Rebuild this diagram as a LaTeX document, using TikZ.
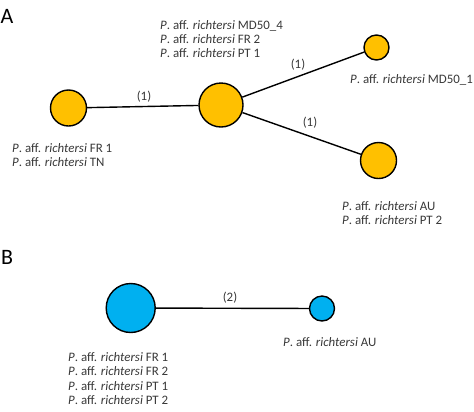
\documentclass[tikz,border=0pt]{standalone}
\usepackage{fontspec}
\setmainfont{Carlito}
\definecolor{hapA}{HTML}{FFC000}
\definecolor{hapB}{HTML}{00B0F0}
\definecolor{txt}{HTML}{383838}
\newcommand{\prich}[1]{\textit{P}. aff. \textit{richtersi} #1}
\begin{document}
\begin{tikzpicture}[x=1bp,y=-1bp,
  hap/.style={circle,draw=black,line width=1.4bp,inner sep=0pt},
  lbl/.style={anchor=west,inner sep=0pt,align=left,text=txt,font=\fontsize{12.9bp}{14.2bp}\selectfont},
  elbl/.style={inner sep=0pt,text=txt,font=\fontsize{12.9bp}{14.2bp}\selectfont},
  panel/.style={inner sep=0pt,font=\fontsize{22bp}{22bp}\selectfont},
  link/.style={line width=1.4bp,draw=black}]
\useasboundingbox (0,0) rectangle (474,411);
% Panel A
\node[panel] (pa) at (7,16) {A};
\node[hap,fill=hapA,minimum size=36bp] (a1) at (68.5,108) {};
\node[hap,fill=hapA,minimum size=44bp] (a2) at (221,105) {};
\node[hap,fill=hapA,minimum size=25bp] (a3) at (376.5,47.5) {};
\node[hap,fill=hapA,minimum size=36bp] (a4) at (378.5,160.5) {};
\draw[link] (a1) -- (a2);
\draw[link] (a2) -- (a3);
\draw[link] (a2) -- (a4);
\node[elbl] (e1) at (144,97) {(1)};
\node[elbl] (e2) at (298,65) {(1)};
\node[elbl] (e3) at (310,123) {(1)};
\node[lbl] (l1) at (12,155) {\prich{FR 1}\\\prich{TN}};
\node[lbl] (l2) at (160,39) {\prich{MD50\_4}\\\prich{FR 2}\\\prich{PT 1}};
\node[lbl] (l3) at (350,80) {\prich{MD50\_1}};
\node[lbl] (l4) at (342,213) {\prich{AU}\\\prich{PT 2}};
% Panel B
\node[panel] (pb) at (7,257) {B};
\node[hap,fill=hapB,minimum size=49bp] (b1) at (130.7,308) {};
\node[hap,fill=hapB,minimum size=25bp] (b2) at (322,308.5) {};
\draw[link] (b1) -- (b2);
\node[elbl] (e4) at (230,298) {(2)};
\node[lbl] (l5) at (68,378.5) {\prich{FR 1}\\\prich{FR 2}\\\prich{PT 1}\\\prich{PT 2}};
\node[lbl] (l6) at (283,342) {\prich{AU}};
\end{tikzpicture}
\end{document}
